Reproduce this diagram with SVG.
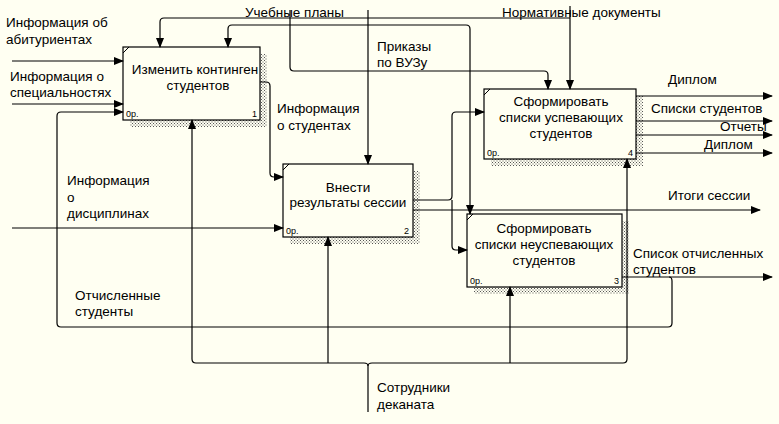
<svg xmlns="http://www.w3.org/2000/svg" width="779" height="424" viewBox="0 0 779 424">
<defs>
<pattern id="h" width="3" height="3" patternUnits="userSpaceOnUse"><rect width="3" height="3" fill="#fffff2"/><rect width="1" height="1" fill="#555"/><rect x="1.5" y="1.5" width="1" height="1" fill="#555"/></pattern>
<marker id="a" markerWidth="10" markerHeight="8" refX="9" refY="4" orient="auto" markerUnits="userSpaceOnUse"><path d="M0,0 L10,4 L0,8 z" fill="#000"/></marker>
</defs>
<style>
text{font-family:"Liberation Sans",Arial,sans-serif;font-size:13.5px;fill:#000}
.n{font-size:9px}
.b{fill:#fffff2;stroke:#000;stroke-width:1.2}
.c path{fill:none;stroke:#000;stroke-width:1.2}
</style>
<rect width="779" height="424" fill="#fffff2"/>
<g id="n1"><rect x="130" y="54" width="137" height="73" fill="url(#h)"/><rect class="b" x="123" y="47" width="137" height="73"/><path d="M123,53 L129,47" stroke="#000"/><text x="195" y="74" text-anchor="middle">Изменить континген</text><text x="198" y="90" text-anchor="middle">студентов</text><text class="n" x="126" y="117">0р.</text><text class="n" x="252" y="117">1</text></g>
<g id="n2"><rect x="290" y="171" width="130" height="73" fill="url(#h)"/><rect class="b" x="283" y="164" width="130" height="73"/><path d="M283,170 L289,164" stroke="#000"/><text x="348" y="192" text-anchor="middle">Внести</text><text x="348" y="207" text-anchor="middle">результаты сессии</text><text class="n" x="286" y="234">0р.</text><text class="n" x="404" y="234">2</text></g>
<g id="n4"><rect x="491" y="96" width="152" height="70" fill="url(#h)"/><rect class="b" x="484" y="89" width="152" height="70"/><path d="M484,95 L490,89" stroke="#000"/><text x="561" y="106" text-anchor="middle">Сформировать</text><text x="561" y="122" text-anchor="middle">списки успевающих</text><text x="561" y="138" text-anchor="middle">студентов</text><text class="n" x="487" y="156">0р.</text><text class="n" x="628" y="156">4</text></g>
<g id="n3"><rect x="474" y="221" width="155" height="73" fill="url(#h)"/><rect class="b" x="467" y="214" width="155" height="73"/><path d="M467,220 L473,214" stroke="#000"/><text x="544" y="233" text-anchor="middle">Сформировать</text><text x="544" y="249" text-anchor="middle">списки неуспевающих</text><text x="544" y="265" text-anchor="middle">студентов</text><text class="n" x="470" y="284">0р.</text><text class="n" x="614" y="284">3</text></g>
<g class="c">
<path d="M12,61 H123" marker-end="url(#a)"/>
<path d="M12,104 H123" marker-end="url(#a)"/>
<path d="M622,277 H772" marker-end="url(#a)"/>
<path d="M669,277 Q672,277 672,281 V323 Q672,327 668,327 H61 Q57,327 57,323 V116 Q57,112 61,112 H123" marker-end="url(#a)"/>
<path d="M570,18 H164 Q160,18 160,22 V47" marker-end="url(#a)"/>
<path d="M570,6 V89" marker-end="url(#a)"/>
<path d="M466,25 Q470,25 470,29 V214" marker-end="url(#a)"/>
<path d="M466,25 H232 Q228,25 228,29 V47" marker-end="url(#a)"/>
<path d="M290,10 V67 Q290,71 294,71 H544 Q548,71 548,75 V89" marker-end="url(#a)"/>
<path d="M368,10 V164" marker-end="url(#a)"/>
<path d="M260,82 H266 Q270,82 270,86 V173 Q270,177 274,177 H283" marker-end="url(#a)"/>
<path d="M413,200 H448 Q452,200 452,196 V116 Q452,112 456,112 H484" marker-end="url(#a)"/>
<path d="M452,200 V246 Q452,250 456,250 H467" marker-end="url(#a)"/>
<path d="M413,210 H760" marker-end="url(#a)"/>
<path d="M12,228 H283" marker-end="url(#a)"/>
<path d="M636,96 H772" marker-end="url(#a)"/>
<path d="M636,121 H772" marker-end="url(#a)"/>
<path d="M636,135 H772" marker-end="url(#a)"/>
<path d="M636,153 H772" marker-end="url(#a)"/>
<path d="M368,412 V366 Q368,363 372,363 H623 Q627,363 627,359 V159" marker-end="url(#a)"/>
<path d="M368,366 Q368,363 364,363 H196 Q192,363 192,359 V120" marker-end="url(#a)"/>
<path d="M328,363 V237" marker-end="url(#a)"/>
<path d="M510,363 V287" marker-end="url(#a)"/>
</g>
<text x="6" y="27">Информация об</text>
<text x="6" y="44">абитуриентах</text>
<text x="10" y="81">Информация о</text>
<text x="10" y="97">специальностях</text>
<text x="245" y="17">Учебные планы</text>
<text x="502" y="17">Нормативные документы</text>
<text x="377" y="51">Приказы</text>
<text x="377" y="67">по ВУЗу</text>
<text x="277" y="113">Информация</text>
<text x="277" y="130">о студентах</text>
<text x="67" y="185">Информация</text>
<text x="67" y="202">о</text>
<text x="67" y="218">дисциплинах</text>
<text x="668" y="84">Диплом</text>
<text x="651" y="113">Списки студентов</text>
<text x="720" y="131">Отчеты</text>
<text x="704" y="149">Диплом</text>
<text x="668" y="200">Итоги сессии</text>
<text x="633" y="258">Список отчисленных</text>
<text x="633" y="274">студентов</text>
<text x="75" y="300">Отчисленные</text>
<text x="75" y="316">студенты</text>
<text x="377" y="392">Сотрудники</text>
<text x="377" y="409">деканата</text>
</svg>
